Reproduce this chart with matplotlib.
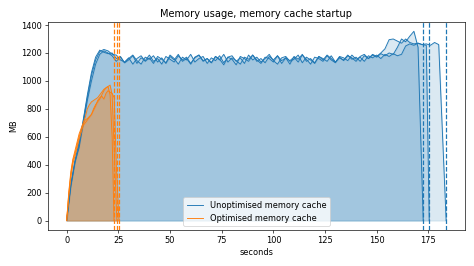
import numpy as np
import matplotlib
matplotlib.use("Agg")
import matplotlib.pyplot as plt

# unoptimised runs, sampled every 2 s, MB
unopt_a = [0, 260, 430, 560, 710, 880, 1040, 1150, 1210, 1225,
           1215, 1190, 1185, 1150, 1135, 1165, 1120, 1160, 1180, 1140,
           1165, 1125, 1175, 1155, 1130, 1185, 1160, 1120, 1170, 1150,
           1190, 1135, 1160, 1175, 1125, 1165, 1145, 1180, 1130, 1170,
           1155, 1115, 1175, 1160, 1140, 1185, 1150, 1125, 1170, 1160,
           1135, 1180, 1145, 1165, 1120, 1175, 1155, 1190, 1140, 1160,
           1130, 1175, 1150, 1185, 1160, 1135, 1170, 1145, 1180, 1165,
           1140, 1175, 1190, 1160, 1185, 1170, 1195, 1180, 1200, 1190,
           1240, 1300, 1280, 1320, 1355, 1240]
unopt_b = [0, 240, 420, 520, 690, 860, 1000, 1120, 1190, 1215,
           1200, 1180, 1140, 1170, 1130, 1160, 1185, 1145, 1120, 1170,
           1155, 1180, 1135, 1165, 1125, 1175, 1150, 1190, 1140, 1160,
           1120, 1170, 1185, 1145, 1160, 1130, 1175, 1155, 1115, 1170,
           1180, 1140, 1165, 1125, 1185, 1150, 1170, 1135, 1160, 1190,
           1145, 1120, 1165, 1175, 1140, 1155, 1185, 1130, 1170, 1150,
           1125, 1175, 1160, 1140, 1180, 1135, 1165, 1150, 1185, 1155,
           1170, 1140, 1180, 1160, 1190, 1175, 1200, 1230, 1295, 1300,
           1285, 1270, 1300, 1275, 1265, 1270, 1260, 1255]
unopt_c = [0, 250, 410, 540, 720, 900, 1060, 1170, 1220, 1205,
           1195, 1200, 1160, 1175, 1130, 1150, 1180, 1125, 1165, 1145,
           1185, 1140, 1160, 1120, 1175, 1155, 1135, 1180, 1150, 1170,
           1125, 1165, 1185, 1140, 1160, 1130, 1175, 1150, 1190, 1135,
           1165, 1145, 1120, 1170, 1155, 1185, 1140, 1160, 1130, 1175,
           1150, 1180, 1125, 1165, 1145, 1170, 1135, 1185, 1155, 1120,
           1170, 1160, 1140, 1180, 1150, 1130, 1175, 1165, 1145, 1185,
           1155, 1170, 1140, 1180, 1165, 1185, 1160, 1190, 1175, 1195,
           1180, 1190, 1250, 1265, 1255, 1270, 1260, 1265, 1255, 1275,
           1260]
unopt_end = [172.5, 175.4, 183.6]

# optimised runs, sampled every 1 s, MB
opt_a = [0, 190, 330, 430, 480, 540, 600, 650, 690, 720,
         730, 745, 760, 800, 830, 850, 870, 900, 930, 950,
         960, 900, 600]
opt_b = [0, 200, 350, 440, 500, 560, 620, 660, 700, 740,
         800, 830, 850, 860, 870, 880, 900, 920, 940, 950,
         960, 970, 900, 500]
opt_c = [0, 170, 310, 410, 460, 520, 580, 630, 680, 700,
         720, 740, 760, 790, 820, 860, 880, 890, 870, 910,
         930, 920, 910, 880, 400]
opt_end = [22.9, 24.3, 25.3]


def run_xy(vals, step, end):
    t = np.append(np.arange(len(vals)) * step, end)
    v = np.append(vals, 0)
    return t, v


fig, ax = plt.subplots(figsize=(8, 266 / 59.25), dpi=59.25)

groups = [([unopt_a, unopt_b, unopt_c], 2, unopt_end, "C0", "Unoptimised memory cache"),
          ([opt_a, opt_b, opt_c], 1, opt_end, "C1", "Optimised memory cache")]

for runs, step, ends, col, label in groups:
    for i, (vals, end) in enumerate(zip(runs, ends)):
        t, v = run_xy(vals, step, end)
        ax.plot(t, v, color=col, lw=1.1, label=label if i == 0 else None)
        ax.fill_between(t, v, color=col, alpha=0.16)
        ax.axvline(end, color=col, linestyle="--")

ax.set_title("Memory usage, memory cache startup")
ax.set_xlabel("seconds")
ax.set_ylabel("MB")
ax.legend(loc="lower center")
fig.tight_layout()
fig.savefig("out.png", dpi=59.25)
